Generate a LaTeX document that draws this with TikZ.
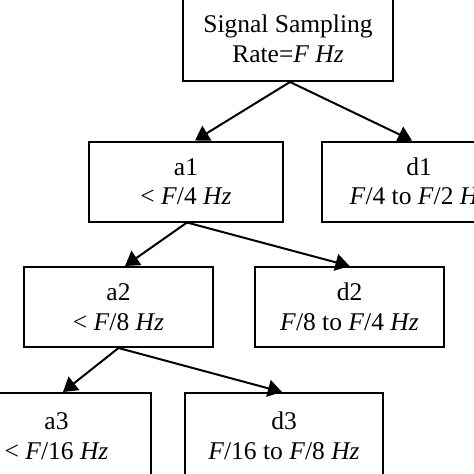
\documentclass[tikz,border=0pt]{standalone}
\usepackage{fontspec}
\setmainfont{Liberation Serif}
\usetikzlibrary{arrows.meta}

\begin{document}
\begin{tikzpicture}[x=1pt,y=1pt,
    band/.style={draw, black, line width=2pt, align=center, inner sep=0pt,
      minimum height=80pt, font=\fontsize{25.5}{29.5}\selectfont},
    link/.style={black, line width=2pt, -{Triangle[length=14pt,width=17pt]}}]
            \useasboundingbox (0,0) rectangle (474,-474);
            \node [band, minimum width=210pt, minimum height=84pt] (sig) at (288,-39) {Signal Sampling\\Rate=\textit{F Hz}};
            \node [band, minimum width=194pt] (a1) at (186,-181.5) {a1\\< \textit{F}/4 \textit{Hz}};
            \node [band, minimum width=194pt] (d1) at (419,-181.5) {d1\\\textit{F}/4 to \textit{F}/2 \textit{Hz}};
            \node [band, minimum width=189pt] (a2) at (118.5,-307) {a2\\< \textit{F}/8 \textit{Hz}};
            \node [band, minimum width=189pt] (d2) at (349.5,-307) {d2\\\textit{F}/8 to \textit{F}/4 \textit{Hz}};
            \node [band, minimum width=189pt, minimum height=86pt] (a3) at (56.5,-436) {a3\\< \textit{F}/16 \textit{Hz}};
            \node [band, minimum width=198pt, minimum height=86pt] (d3) at (284,-436) {d3\\\textit{F}/16 to \textit{F}/8 \textit{Hz}};
            \draw [link] ([xshift=2pt]sig.south) -- ([xshift=9pt]a1.north);
            \draw [link] ([xshift=2pt]sig.south) -- ([xshift=-7pt]d1.north);
            \draw [link] ([xshift=1pt]a1.south) -- ([xshift=6.5pt]a2.north);
            \draw [link] ([xshift=1pt]a1.south) -- (d2.north);
            \draw [link] (a2.south) -- ([xshift=6.5pt]a3.north);
            \draw [link] (a2.south) -- ([xshift=-2pt]d3.north);
\end{tikzpicture}
\end{document}
